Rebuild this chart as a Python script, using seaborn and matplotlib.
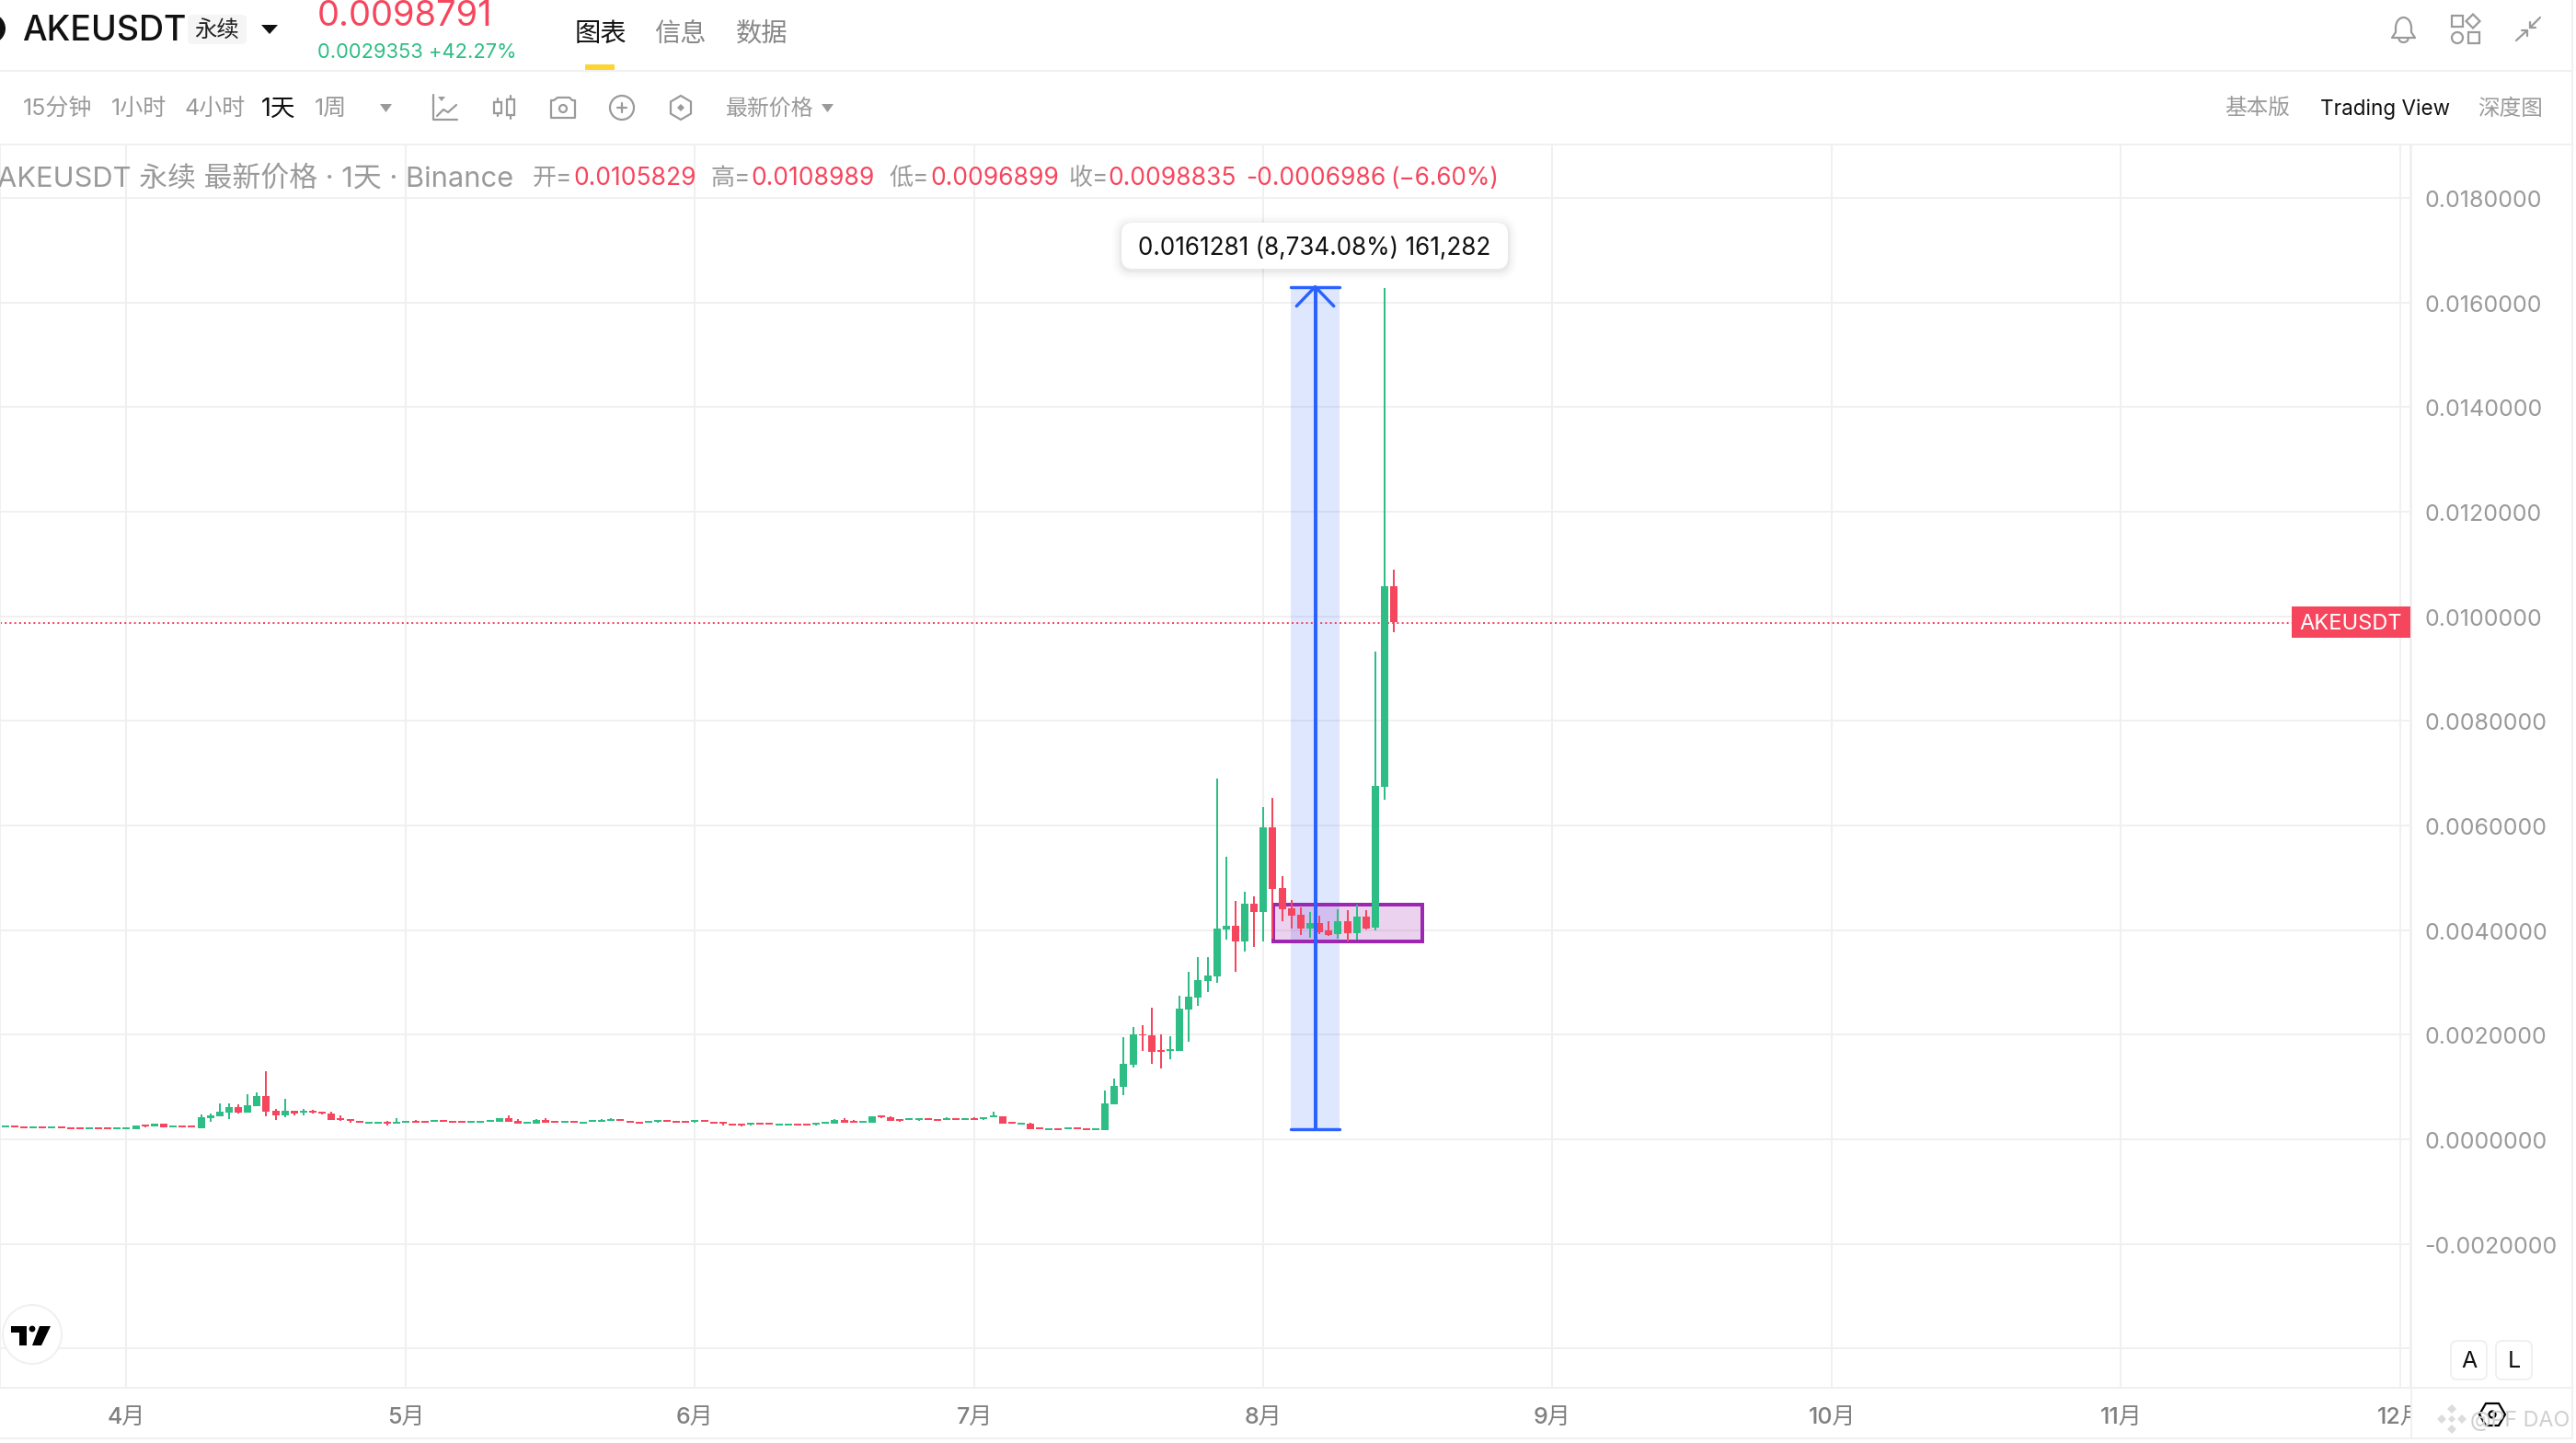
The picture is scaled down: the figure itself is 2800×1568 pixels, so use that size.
import numpy as np
import pandas as pd
import seaborn as sns
import matplotlib.pyplot as plt
from matplotlib.patches import Rectangle, FancyBboxPatch, Circle, Polygon, Arc
from matplotlib.transforms import ScaledTranslation

# daily candles, prices in millionths of a USDT
first_day = '2025-03-19'
opens = [223,258,240,205,240,205,240,223,223,188,223,223,188,188,188,276,240,293,223,258,258,205,399,434,504,610,504,628,821,540,452,540,504,540,522,487,399,381,346,293,293,328,293,311,346,346,328,364,346,346,311,311,328,328,399,
         352,299,299,369,352,317,352,299,334,334,352,387,352,334,317,334,369,352,352,334,369,334,334,299,299,282,317,317,264,264,299,299,282,299,299,369,352,317,317,457,422,387,369,369,405,387,369,405,369,405,387,422,440,334,282,299,229,176,211,194,229,211,176,
         170,667,1000,1422,2015,1985,1704,1689,1681,2474,2704,3022,3111,4007,4074,3792,4496,4355,5963,4800,4415,4289,4022,4133,3992,3918,4163,3933,4252,4044,6733,10583]
closes = [258,223,205,240,205,240,205,188,188,223,188,188,223,223,258,240,293,223,258,223,223,416,452,522,610,504,645,821,522,452,540,487,540,504,487,364,364,346,311,328,328,293,328,346,311,311,364,328,311,311,346,346,364,399,328,
          299,334,369,317,317,352,317,334,369,369,387,352,317,299,352,369,334,317,317,369,334,299,299,264,264,317,282,282,299,299,264,264,317,334,369,317,317,352,440,422,352,352,405,405,369,352,405,369,405,369,422,457,299,299,317,194,194,211,176,229,194,176,211,
          681,1015,1437,2000,1985,1667,1667,1718,2496,2726,3037,3126,4022,4074,3792,4496,4355,5963,4778,4392,4274,4022,4133,3955,3904,4163,3933,4252,4037,6755,10583,9884]
highs = [258,258,240,240,240,240,240,223,223,223,223,223,223,223,258,276,293,293,258,258,258,469,487,680,680,663,856,891,1296,575,768,540,575,557,522,522,452,381,346,328,328,346,399,346,364,346,364,364,346,346,346,346,364,399,452,
         387,334,387,405,352,352,352,334,369,387,405,387,352,334,352,369,369,352,352,369,369,334,334,299,299,317,317,317,299,299,299,299,317,334,387,405,369,352,440,457,440,387,405,405,405,387,422,405,405,422,422,528,440,334,317,317,229,211,211,229,229,211,211,
         926,1170,1948,2141,2178,2511,2015,1963,2741,3200,3481,3481,6896,5400,4555,4726,4637,6348,6526,5029,4570,4429,4355,4274,4163,4392,4378,4481,4378,9318,16276,10899]
lows = [223,223,205,205,205,205,205,188,188,188,188,188,188,188,188,223,240,223,223,223,223,205,328,434,381,487,504,628,434,364,416,452,452,487,469,364,346,311,311,293,293,258,293,311,311,311,328,328,311,311,311,311,328,328,328,
        299,299,299,317,317,317,317,299,334,334,352,352,317,299,317,317,334,317,317,317,334,299,264,264,246,264,282,282,264,264,264,264,264,299,299,317,317,317,317,405,352,334,369,352,369,352,369,369,369,369,369,422,299,299,282,194,194,176,176,194,194,176,176,
        170,667,837,1370,1681,1437,1348,1526,1681,1859,2548,2807,2985,3815,3200,3585,3674,3778,3844,4163,4022,3904,3852,3918,3881,3829,3792,3815,4007,3992,6489,9690]

last_price = 0.0098791
price_ticks = [0.018, 0.016, 0.014, 0.012, 0.010, 0.008, 0.006, 0.004, 0.002, 0.0, -0.002, -0.004]
month_starts = ['2025-04-01', '2025-05-01', '2025-06-01', '2025-07-01', '2025-08-01', '2025-09-01', '2025-10-01', '2025-11-01', '2025-12-01']
month_labels = ['4月', '5月', '6月', '7月', '8月', '9月', '10月', '11月', '12月']

# drawing tools on the chart: measure tool and the purple box
measure_days = (124.93, 130.16)
measure_prices = (0.0002, 0.0163)
box_days = (123.05, 139.04)
box_prices = (0.003783, 0.004487)

GREEN = '#2ebd85'
RED = '#f6465d'
BLUE = '#2962ff'
PURPLE = '#9c27b0'
GRAY = '#9a9a9a'
LINE = '#f0f0f0'
PX = 72 / 200  # points per pixel at dpi 200

sns.set_theme(style='whitegrid', rc={'grid.color': LINE, 'grid.linewidth': 2 * PX,
                                     'axes.edgecolor': LINE, 'axes.linewidth': 2 * PX})
plt.rcParams['font.family'] = ['Inter', 'Noto Sans CJK SC', 'DejaVu Sans']

days = pd.date_range(first_day, periods=len(opens))
day0 = pd.Timestamp(month_starts[0])
df = pd.DataFrame({'day': (days - day0).days, 'open': opens, 'close': closes, 'high': highs, 'low': lows})
df[['open', 'close', 'high', 'low']] *= 1e-6
df['dir'] = np.where(df['close'] >= df['open'], 'up', 'down')
palette = {'up': GREEN, 'down': RED}

wicks = df.melt(id_vars=['day', 'dir'], value_vars=['high', 'low'], value_name='price')
bodies = df.melt(id_vars=['day', 'dir'], value_vars=['open', 'close'], value_name='price')

fig = plt.figure(figsize=(14, 7.84), dpi=200, facecolor='white')
ax = fig.add_axes([0, 60 / 1568, 2620 / 2800, 1351 / 1568], zorder=1)

sns.lineplot(wicks, x='day', y='price', hue='dir', units='day', estimator=None, palette=palette,
             linewidth=2 * PX, solid_capstyle='butt', legend=False, zorder=3, ax=ax)
sns.lineplot(bodies, x='day', y='price', hue='dir', units='day', estimator=None, palette=palette,
             linewidth=8 * PX, solid_capstyle='butt', legend=False, zorder=3.1, ax=ax)

ax.set_xlim(-13.57, 245.06)
ax.set_ylim(-0.00475, 0.01902)
ax.set_axisbelow(True)
ax.set_xlabel('')
ax.set_ylabel('')

ax.set_xticks([(pd.Timestamp(m) - day0).days for m in month_starts])
ax.set_xticklabels(month_labels, color='#808080', fontsize=9, fontweight='medium')
ax.yaxis.tick_right()
ax.set_yticks(price_ticks)
ax.set_yticklabels(['' if p == -0.004 else f'{p:.7f}' for p in price_ticks], color=GRAY, fontsize=9)
ax.tick_params(axis='x', length=0, pad=7.4)
ax.tick_params(axis='y', length=0, pad=5.5)
for lbl in ax.get_yticklabels():
    lbl.set_transform(lbl.get_transform() + ScaledTranslation(0, -1 / 200, fig.dpi_scale_trans))

# last price line
ax.axhline(last_price, color=RED, linewidth=2 * PX, linestyle=(0, (1, 1.6)), zorder=2)

# measure tool
ax.add_patch(Rectangle((measure_days[0], measure_prices[0]), measure_days[1] - measure_days[0],
                       measure_prices[1] - measure_prices[0], facecolor=BLUE, alpha=0.15, linewidth=0, zorder=1.5))
mid = sum(measure_days) / 2
ax.plot([mid, mid], measure_prices, color=BLUE, linewidth=4 * PX, solid_capstyle='butt', zorder=5)
for y in measure_prices:
    ax.plot(measure_days, [y, y], color=BLUE, linewidth=3.4 * PX, solid_capstyle='round', zorder=5)
ax.plot([mid - 2, mid, mid + 2], [measure_prices[1] - 0.00037, measure_prices[1], measure_prices[1] - 0.00037],
        color=BLUE, linewidth=3.4 * PX, solid_capstyle='round', zorder=5)

# purple box
ax.add_patch(Rectangle((box_days[0], box_prices[0]), box_days[1] - box_days[0], box_prices[1] - box_prices[0],
                       facecolor=PURPLE, alpha=0.2, linewidth=0, zorder=1.6))
ax.add_patch(Rectangle((box_days[0], box_prices[0]), box_days[1] - box_days[0], box_prices[1] - box_prices[0],
                       facecolor='none', edgecolor=PURPLE, linewidth=4 * PX, zorder=2.5))

# everything around the chart, in pixels
ui = fig.add_axes([0, 0, 1, 1], zorder=10, facecolor='none')
ui.set_xlim(0, 2800)
ui.set_ylim(1568, 0)
ui.axis('off')


def txt(x, y, s, size=8.4, color=GRAY, ha='left', **kw):
    ui.text(x, y + 3, s, fontsize=size, color=color, ha=ha, va='center', **kw)


def rbox(x, y, w, h, r, fc='white', ec='none', lw=0, **kw):
    ui.add_patch(FancyBboxPatch((x, y), w, h, boxstyle=f'round,pad=0,rounding_size={r}',
                                facecolor=fc, edgecolor=ec, linewidth=lw, **kw))


def stroke(xs, ys, color=GRAY, lw=2.2):
    ui.plot(xs, ys, color=color, linewidth=lw * PX, solid_capstyle='round', solid_joinstyle='round')


# frame lines and clipped axis strip
ui.add_patch(Rectangle((2621, 1509), 175, 59, facecolor='white', linewidth=0))
stroke([0, 2796], [77, 77], LINE, 2)
stroke([0, 2796], [157, 157], LINE, 2)
stroke([0, 2796], [1563, 1563], LINE, 2)
stroke([2621, 2796], [1508, 1508], LINE, 2)
stroke([2621, 2621], [157, 1563], LINE, 2)
stroke([2796, 2796], [0, 1563], LINE, 2)

# header
ui.add_patch(Circle((-10, 31), 16, facecolor='#111111', linewidth=0, clip_on=True))
txt(24, 31, 'AKEUSDT', 13.5, '#111111', fontweight='medium')
rbox(204, 16, 64, 32, 5, fc='#f5f5f5')
txt(236, 30, '永续', 8.8, '#222222', ha='center')
ui.add_patch(Polygon([(284, 27), (302, 27), (293, 37)], facecolor='#111111', linewidth=0))
txt(345, 15, '0.0098791', 13.7, RED)
txt(345, 54, '0.0029353 +42.27%', 7.9, GREEN)
txt(625, 34, '图表', 10.2, '#111111')
txt(711, 34, '信息', 10.2, '#888888')
txt(800, 34, '数据', 10.2, '#888888')
ui.add_patch(Rectangle((636, 70), 32, 6, facecolor='#fcd535', linewidth=0))

# toolbar
for x, s, c, size in [(25, '15分钟', GRAY, 9), (121, '1小时', GRAY, 9), (201, '4小时', GRAY, 9), (284, '1天', '#111111', 9.6),
                      (342, '1周', GRAY, 9), (789, '最新价格', GRAY, 8.6), (2418, '基本版', GRAY, 8.5),
                      (2522, 'Trading View', '#111111', 8.1), (2693, '深度图', GRAY, 8.5)]:
    txt(x, 116, s, size, c)
for x0 in (413, 893):
    ui.add_patch(Polygon([(x0, 113), (x0 + 13, 113), (x0 + 6.5, 122)], facecolor=GRAY, linewidth=0))

# toolbar icons
stroke([471, 471, 497], [103, 130, 130])
stroke([475, 482, 487, 496], [126, 119, 122, 114])
ui.add_patch(Polygon([(476, 105), (484, 105), (480, 110)], facecolor=GRAY, linewidth=0))
ui.add_patch(Rectangle((537, 111), 8, 12, facecolor='none', edgecolor=GRAY, linewidth=2.2 * PX))
ui.add_patch(Rectangle((551, 108), 8, 17, facecolor='none', edgecolor=GRAY, linewidth=2.2 * PX))
stroke([541, 541], [107, 111])
stroke([541, 541], [123, 126])
stroke([555, 555], [104, 108])
stroke([555, 555], [125, 129])
stroke([602, 606, 619, 622, 625, 625, 599, 599, 602], [109, 106, 106, 109, 109, 128, 128, 109, 109])
ui.add_patch(Circle((612, 118), 4, facecolor='none', edgecolor=GRAY, linewidth=2.2 * PX))
ui.add_patch(Circle((676, 117), 13, facecolor='none', edgecolor=GRAY, linewidth=2.2 * PX))
stroke([671, 681], [117, 117])
stroke([676, 676], [112, 122])
ui.add_patch(Polygon([(740, 104), (751, 110.5), (751, 123.5), (740, 130), (729, 123.5), (729, 110.5)],
                     facecolor='none', edgecolor=GRAY, linewidth=2.2 * PX))
ui.add_patch(Polygon([(740, 113), (744, 117), (740, 121), (736, 117)], facecolor=GRAY, linewidth=0))

# top right icons
ui.add_patch(Arc((2612.5, 30), 17, 22, theta1=180, theta2=360, edgecolor=GRAY, linewidth=2.2 * PX))
stroke([2604, 2604, 2600, 2625, 2621, 2621], [30, 35, 41, 41, 35, 30])
ui.add_patch(Arc((2612.5, 42), 10, 8, theta1=0, theta2=180, edgecolor=GRAY, linewidth=2.2 * PX))
ui.add_patch(Rectangle((2665, 17), 12, 12, facecolor='none', edgecolor=GRAY, linewidth=2.2 * PX))
ui.add_patch(Polygon([(2688, 15.5), (2695.5, 23), (2688, 30.5), (2680.5, 23)], facecolor='none', edgecolor=GRAY, linewidth=2.2 * PX))
ui.add_patch(Circle((2671, 41), 6, facecolor='none', edgecolor=GRAY, linewidth=2.2 * PX))
ui.add_patch(Rectangle((2683, 35), 12, 12, facecolor='none', edgecolor=GRAY, linewidth=2.2 * PX))
stroke([2735, 2747], [44, 33])
stroke([2741, 2747, 2747], [33, 33, 39])
stroke([2761, 2750], [19, 30])
stroke([2750, 2750, 2756], [24, 30, 30])

# legend row
txt(-3, 191, 'AKEUSDT 永续 最新价格 · 1天 · Binance', 11.1, GRAY)
for x, s in [(579, '开='), (773, '高='), (966, '低='), (1161, '收=')]:
    txt(x, 191, s, 9.4, GRAY)
for x, s in [(623, '0.0105829'), (816, '0.0108989'), (1011, '0.0096899'), (1204, '0.0098835'), (1354, '-0.0006986')]:
    txt(x, 191, s, 9.5, RED)
txt(1511, 191, '(−6.60%)', 9.4, RED)

# tooltip with a soft shadow
for grow, a in [(10, 0.012), (7, 0.018), (4, 0.025), (2, 0.03)]:
    rbox(1219 - grow, 244 - grow, 420 + 2 * grow, 50 + 2 * grow, 12 + grow, fc='black', alpha=a)
rbox(1219, 242, 420, 50, 12)
txt(1429, 267, '0.0161281 (8,734.08%) 161,282', 9.4, '#111111', ha='center')

# price label
ui.add_patch(Rectangle((2491, 659), 129, 34, facecolor=RED, linewidth=0))
txt(2555, 675, 'AKEUSDT', 8.5, 'white', ha='center')

# TradingView badge
ui.add_patch(Circle((35, 1450), 32, facecolor='white', edgecolor=LINE, linewidth=2 * PX))
ui.add_patch(Polygon([(12, 1441), (29, 1441), (29, 1462), (21, 1462), (21, 1448), (12, 1448)], facecolor='black', linewidth=0))
ui.add_patch(Circle((35, 1444), 3.4, facecolor='black', linewidth=0))
ui.add_patch(Polygon([(43, 1441), (55, 1441), (45, 1462), (35, 1462)], facecolor='black', linewidth=0))

# scale buttons
for x, s in [(2664, 'A'), (2713, 'L')]:
    rbox(x, 1457, 39, 42, 7, ec=LINE, lw=2 * PX)
    txt(x + 19.5, 1477, s, 9, '#111111', ha='center')

# watermark and hex button
for cx, cy, r in [(2665, 1531, 5), (2654, 1542, 5), (2676, 1542, 5), (2665, 1553, 5), (2665, 1542, 4)]:
    ui.add_patch(Polygon([(cx, cy - r), (cx + r, cy), (cx, cy + r), (cx - r, cy)], facecolor='#dcdcdc', linewidth=0))
txt(2685, 1541, '@PF DAO', 8.4, '#cfcfcf')
ui.add_patch(Polygon([(2702, 1525), (2716, 1525), (2723, 1537), (2716, 1549), (2702, 1549), (2695, 1537)],
                     facecolor='none', edgecolor='black', linewidth=2.2 * PX))
ui.add_patch(Circle((2709, 1537), 3.5, facecolor='none', edgecolor='black', linewidth=2.2 * PX))

fig.savefig('out.png', dpi=200)
